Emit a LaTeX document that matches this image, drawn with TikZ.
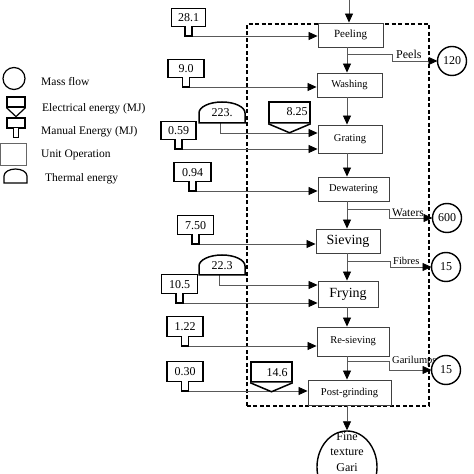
\documentclass[tikz,border=0pt]{standalone}
\usepackage{fontspec}
\setmainfont{Liberation Serif}
\usetikzlibrary{arrows.meta,shapes.geometric,calc}
\begin{document}
\begin{tikzpicture}[x=1pt,y=1pt,
  unit/.style={draw=black!75, line width=0.9pt, fill=white, minimum height=24, inner sep=1pt, font=\fontsize{10.5}{12}\selectfont},
  flow/.style={draw=black!65, line width=0.8pt, -{Triangle[length=9pt,width=8pt,color=black]}},
  en/.style={draw=black, line width=1.5pt},
  manbox/.style={en, fill=white, inner sep=0pt, font=\fontsize{12}{14}\selectfont},
  num/.style={inner sep=0pt, font=\fontsize{12}{14}\selectfont},
  mass/.style={circle, draw=black, line width=1.4pt, fill=white, minimum size=29, inner sep=0pt, font=\fontsize{12}{14}\selectfont},
  lbl/.style={inner sep=1pt, anchor=south west},
  leg/.style={anchor=base west, inner sep=0pt, font=\fontsize{11.5}{13}\selectfont},
  legen/.style={draw=black, line width=1.2pt}
]
\useasboundingbox (0,0) rectangle (474,474);

% dashed system boundary
\draw[black, line width=1.4pt, dash pattern=on 4pt off 2.5pt] (247,68) rectangle (429,450);

% unit operations
\node[unit, minimum width=65, font=\fontsize{11}{12}\selectfont] (peel) at (350.5,439) {Peeling};
\node[unit, minimum width=65] (wash) at (349.5,389) {Washing};
\node[unit, minimum width=64, minimum height=28] (grat) at (350,335) {Grating};
\node[unit, minimum width=71] (dewa) at (353.5,285) {Dewatering};
\node[unit, minimum width=64, font=\fontsize{14}{16}\selectfont] (siev) at (348,233) {Sieving};
\node[unit, minimum width=60, minimum height=26, font=\fontsize{14}{16}\selectfont] (fry) at (348,180) {Frying};
\node[unit, minimum width=72, minimum height=29] (resv) at (353,132.5) {Re-sieving};
\node[unit, minimum width=83, minimum height=25] (post) at (349.5,81.5) {Post-grinding};

% main column
\coordinate (colx) at (347,0);
\coordinate (top) at (349,474);
\draw[flow] (top) -- (top |- peel.north);
\foreach \a/\b in {peel/wash, wash/grat, grat/dewa, dewa/siev, siev/fry, fry/resv, resv/post}
  \draw[flow] (\a.south -| colx) -- (\b.north -| colx);

% product
\node[ellipse, draw=black, line width=1.4pt, minimum width=60, minimum height=72, inner sep=0pt] (gari) at (347,7) {};
\node[align=center, inner sep=0pt, font=\fontsize{12}{15.5}\selectfont] (garit) at (347,22) {Fine\\texture\\Gari};
\draw[flow] (post.south -| colx) -- (gari.north -| colx);

% side streams
\coordinate (b1) at (347,420); \coordinate (k1) at (392,0);
\coordinate (b2) at (347,265); \coordinate (k2) at (389,0);
\coordinate (b3) at (347,213); \coordinate (k3) at (390,0);
\coordinate (b4) at (347,113); \coordinate (k4) at (389,0);
\coordinate (c120w) at (437.5,413);
\coordinate (c600w) at (432.5,256);
\coordinate (c15aw) at (431.5,207);
\coordinate (c15bw) at (431.5,104);
\draw[flow] (b1) -- (b1 -| k1) |- (c120w);
\draw[flow] (b2) -- (b2 -| k2) |- (c600w);
\draw[flow] (b3) -- (b3 -| k3) |- (c15aw);
\draw[flow] (b4) -- (b4 -| k4) |- (c15bw);
\node[lbl, font=\fontsize{12}{14}\selectfont] (lp) at (395,414) {Peels};
\node[lbl, font=\fontsize{11.5}{13}\selectfont] (lw) at (391,256) {Waters};
\node[lbl, font=\fontsize{10.5}{12}\selectfont] (lf) at (392,208) {Fibres};
\node[lbl, font=\fontsize{10.5}{12}\selectfont] (lg) at (391,107) {Garilumps};
\node[mass] (c120) at (452,413) {120};
\node[mass] (c600) at (447,256) {600};
\node[mass] (c15a) at (446,207) {15};
\node[mass] (c15b) at (446,104) {15};

% manual energy inputs
\foreach \n/\x/\y/\w/\h/\t/\g in {
  m1/188.5/446.5/34/18/28.1/peel,
  m2/186/395.5/36/18/9.0/wash,
  m3/178.5/333.5/35/18/0.59/grat,
  m4/192.5/291.5/37/19/0.94/dewa,
  m5/195.5/238.5/36/19/7.50/siev,
  m6/179.5/179.5/36/19/10.5/fry,
  m7/185/136.5/36/20/1.22/resv,
  m8/185/91.5/36/20/0.30/post}{
  \coordinate (\n o) at ([xshift=3.5pt,yshift=-8.5pt]\x,\y);
  \draw[flow] (\n o) -- (\n o -| \g.west);
  \node[manbox, minimum width=\w, minimum height=\h, anchor=south] (\n) at (\x,\y) {\t};
  \fill[white] ([xshift=-2.6pt,yshift=1pt]\n.south) rectangle ([xshift=2.6pt,yshift=-1pt]\n.south);
  \draw[en] ([xshift=-3.5pt]\n.south) -- ++(0,-8.5) -- ++(7,0) -- ++(0,8.5);
}

% thermal energy inputs
\coordinate (th1o) at (220,351);
\draw[flow] (th1o) |- (grat.west |- 0,341);
\draw[en, fill=white] (199,351) -- (199,361) arc[start angle=180, end angle=0, x radius=23, y radius=11] -- (245,351) -- cycle;
\node[num] (th1) at (222,361) {223.};
\coordinate (th2o) at (219,199);
\draw[flow] (th2o) |- (fry.west |- 0,189);
\draw[en, fill=white] (199,199) -- (199,208) arc[start angle=180, end angle=0, x radius=23, y radius=11] -- (245,199) -- cycle;
\node[num] (th2) at (222,208) {22.3};

% electrical energy inputs
\node[en, fill=white, minimum width=41, minimum height=21, inner sep=0pt] (e1) at (289.5,361.5) {};
\draw[en, fill=white] (e1.south west) -- ($(e1.south)+(0,-9)$) -- (e1.south east);
\node[num] (e1t) at (297,362) {8.25};
\node[en, fill=white, minimum width=41, minimum height=20, inner sep=0pt] (e2) at (271.5,102) {};
\draw[en, fill=white] (e2.south west) -- ($(e2.south)+(0,-9)$) -- (e2.south east);
\node[num] (e2t) at (277,101) {14.6};

% legend
\node[circle, legen, minimum size=22, inner sep=0pt] (lc) at (14,395.5) {};
\node[leg] (lt1) at (41,388) {Mass flow};
\node[legen, minimum width=18, minimum height=10, inner sep=0pt] (le) at (16,372) {};
\draw[legen] (le.south west) -- ($(le.south)+(0,-9)$) -- (le.south east);
\node[leg] (lt2) at (42,362) {Electrical energy (MJ)};
\node[legen, minimum width=18, minimum height=10, inner sep=0pt] (lm) at (16,351) {};
\fill[white] ([xshift=-2pt,yshift=1pt]lm.south) rectangle ([xshift=2pt,yshift=-1pt]lm.south);
\draw[legen] ([xshift=-2.5pt]lm.south) -- ++(0,-9) -- ++(5,0) -- ++(0,9);
\node[leg] (lt3) at (41,339) {Manual Energy (MJ)};
\node[draw=black!60, line width=0.9pt, minimum width=26, minimum height=22, inner sep=0pt] (lu) at (13,320) {};
\node[leg] (lt4) at (41,316) {Unit Operation};
\draw[legen] (4,291) -- (4,298) arc[start angle=180, end angle=0, x radius=11.5, y radius=7] -- (27,291) -- cycle;
\node[leg] (lt5) at (45,292) {Thermal energy};
\end{tikzpicture}
\end{document}
